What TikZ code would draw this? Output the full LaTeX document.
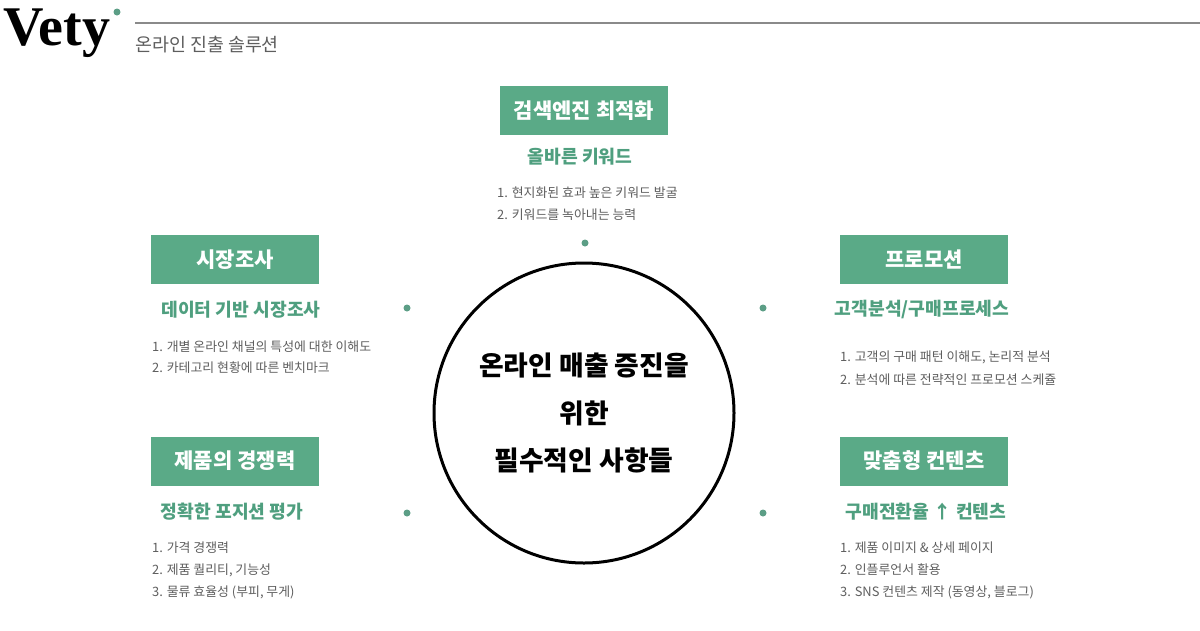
\documentclass[tikz,border=0pt]{standalone}
\usepackage{graphicx}
\usepackage{fontspec}
\newfontfamily\kr{Noto Sans CJK KR}
\newfontfamily\logofont{Liberation Serif}
\usetikzlibrary{positioning}

\definecolor{vetygreen}{HTML}{5AAA87}
\definecolor{subgreen}{HTML}{4F9F7F}
\definecolor{dotgreen}{HTML}{5C9E86}
\definecolor{listgray}{HTML}{5E5E5E}
\definecolor{rulegray}{HTML}{8A8A8A}

\begin{document}
\begin{tikzpicture}[x=1pt,y=-1pt,
    topic/.style={fill=vetygreen, text=white, minimum width=168pt, minimum height=49pt,
      inner sep=0pt, font=\kr\bfseries\fontsize{21}{21}\selectfont},
    subtopic/.style={text=subgreen, inner sep=0pt, font=\kr\bfseries\fontsize{18.2}{18.2}\selectfont},
    item/.style={anchor=west, text=listgray, inner sep=0pt, font=\kr\fontsize{12.9}{12.9}\selectfont},
    marker/.style={fill=dotgreen}]
  \useasboundingbox (0,0) rectangle (1200,630);

  \node (logo) [anchor=base west, inner sep=0pt] at (3,45)
    {\logofont\bfseries\fontsize{56}{56}\selectfont Vety};
  \fill[marker] (117,12) circle (3.5);
  \coordinate (ruleL) at (135,23);
  \coordinate (ruleR) at (1200,23);
  \draw[rulegray, line width=1.6pt] (ruleL) -- (ruleR);
  \node (header) [anchor=west, inner sep=0pt, text=listgray, font=\kr\fontsize{18.4}{18.4}\selectfont]
    at (135,45) {온라인 진출 솔루션};

  \node (core) [circle, draw, line width=3pt, minimum size=300pt, inner sep=0pt, align=center,
    font=\kr\bfseries\fontsize{26.8}{47.5}\selectfont] at (584,413)
    {온라인 매출 증진을\\위한\\필수적인 사항들};

  \node (seo) [topic] at (584,110.5) {검색엔진 최적화};
  \node (seosub) [subtopic] at (580,157) {올바른 키워드};
  \node (seo1) [item] at (497,193) {1. 현지화된 효과 높은 키워드 발굴};
  \node (seo2) [item] at (497,215) {2. 키워드를 녹아내는 능력};
  \fill[marker] (585,243) circle (3.5);

  \node (market) [topic] at (235,259.5) {시장조사};
  \node (marketsub) [subtopic] at (241,310) {데이터 기반 시장조사};
  \node (market1) [item] at (152,347) {1. 개별 온라인 채널의 특성에 대한 이해도};
  \node (market2) [item] at (152,368) {2. 카테고리 현황에 따른 벤치마크};
  \fill[marker] (407,308) circle (3.5);

  \node (promo) [topic] at (924,259.5) {프로모션};
  \node (promosub) [subtopic] at (922,309) {고객분석/구매프로세스};
  \node (promo1) [item] at (840,357) {1. 고객의 구매 패턴 이해도, 논리적 분석};
  \node (promo2) [item] at (840,380) {2. 분석에 따른 전략적인 프로모션 스케쥴};
  \fill[marker] (763,308) circle (3.5);

  \node (product) [topic] at (235,461) {제품의 경쟁력};
  \node (productsub) [subtopic] at (232,512) {정확한 포지션 평가};
  \node (product1) [item] at (152,548) {1. 가격 경쟁력};
  \node (product2) [item] at (152,570) {2. 제품 퀄리티, 기능성};
  \node (product3) [item] at (152,592) {3. 물류 효율성 (부피, 무게)};
  \fill[marker] (407,513) circle (3.5);

  \node (content) [topic] at (924,461) {맞춤형 컨텐츠};
  \node (contentsub) [subtopic] at (926,512) {구매전환율 ↑ 컨텐츠};
  \node (content1) [item] at (840,548) {1. 제품 이미지 \& 상세 페이지};
  \node (content2) [item] at (840,570) {2. 인플루언서 활용};
  \node (content3) [item] at (840,592) {3. SNS 컨텐츠 제작 (동영상, 블로그)};
  \fill[marker] (763,513) circle (3.5);
\end{tikzpicture}
\end{document}
